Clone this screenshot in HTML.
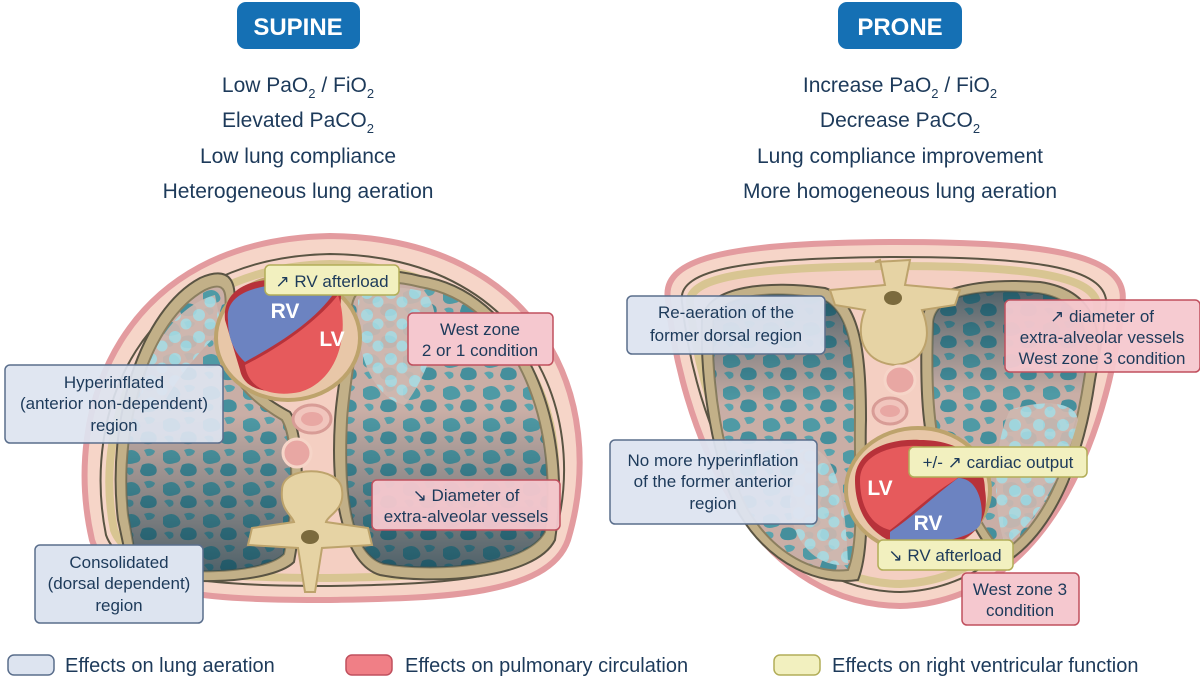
<!DOCTYPE html>
<html><head><meta charset="utf-8"><style>
body{margin:0;background:#fff;width:1200px;height:680px;overflow:hidden;font-family:"Liberation Sans",Arial,sans-serif}
svg{display:block}
.t{font-family:"Liberation Sans",Arial,sans-serif;fill:#1d3a5a}
</style></head><body>
<svg width="1200" height="680" viewBox="0 0 1200 680">
<defs>
<pattern id="blob" width="40" height="32" patternUnits="userSpaceOnUse">
<rect width="40" height="32" fill="#c9aea6"/>
<path d="M3 5 q9-6 15 0 q6 8-3 10 q-9 3-12-3z" fill="#4f9aa5"/>
<path d="M22 17 q9-4 14 2 q3 8-6 9 q-9 1-10-5z" fill="#458f9c"/>
<path d="M24 2 q6-3 11 1 q-1 5-8 5z" fill="#5aa3ad"/>
<path d="M4 21 q5-3 9 0 q2 5-4 6z" fill="#5aa3ad"/>
</pattern>
<pattern id="bubbles" width="24" height="22" patternUnits="userSpaceOnUse">
<rect width="24" height="22" fill="#cfb8b0"/>
<circle cx="7" cy="7" r="6" fill="#a8dbe3"/><circle cx="18" cy="16" r="5.5" fill="#a8dbe3"/>
</pattern>
<linearGradient id="gs" x1="0" y1="0" x2="0" y2="1">
<stop offset="0.45" stop-color="#0f3a4a" stop-opacity="0"/>
<stop offset="1" stop-color="#0f3a4a" stop-opacity="0.65"/>
</linearGradient>
<linearGradient id="gp" x1="0" y1="1" x2="0" y2="0">
<stop offset="0.6" stop-color="#0f3a4a" stop-opacity="0"/>
<stop offset="1" stop-color="#0f3a4a" stop-opacity="0.65"/>
</linearGradient>
</defs>

<!-- titles -->
<rect x="237" y="2" width="123" height="47" rx="9" fill="#1570b4"/>
<text x="298" y="35" text-anchor="middle" font-size="24" font-weight="bold" fill="#fff" font-family="Liberation Sans">SUPINE</text>
<rect x="838" y="2" width="124" height="47" rx="9" fill="#1570b4"/>
<text x="900" y="35" text-anchor="middle" font-size="24" font-weight="bold" fill="#fff" font-family="Liberation Sans">PRONE</text>

<g class="t" font-size="21" text-anchor="middle">
<text x="298" y="92">Low PaO<tspan font-size="13" dy="6">2</tspan><tspan dy="-6"> / FiO</tspan><tspan font-size="13" dy="6">2</tspan></text>
<text x="298" y="127">Elevated PaCO<tspan font-size="13" dy="6">2</tspan></text>
<text x="298" y="163">Low lung compliance</text>
<text x="298" y="198">Heterogeneous lung aeration</text>
<text x="900" y="92">Increase PaO<tspan font-size="13" dy="6">2</tspan><tspan dy="-6"> / FiO</tspan><tspan font-size="13" dy="6">2</tspan></text>
<text x="900" y="127">Decrease PaCO<tspan font-size="13" dy="6">2</tspan></text>
<text x="900" y="163">Lung compliance improvement</text>
<text x="900" y="198">More homogeneous lung aeration</text>
</g>

<!-- SUPINE body -->
<path d="M92 540 C62 410,120 240,330 236 C540 238,610 400,568 540 C548 598,430 598,330 600 C230 600,110 598,92 540Z" fill="#f6d5c8" stroke="#e39b9f" stroke-width="6"/>
<path d="M106 535 C82 415,135 258,330 254 C525 256,590 410,555 535 C535 582,430 584,330 586 C230 586,122 582,106 535Z" fill="none" stroke="#5a5443" stroke-width="2"/>
<path d="M114 530 C92 420,145 268,330 264 C515 266,580 415,547 530 C528 574,430 576,330 578 C230 578,130 574,114 530Z" fill="#f4cfc2" stroke="#d8c592" stroke-width="8"/>
<!-- left lung -->
<path d="M118 520 C106 420,140 310,200 278 C230 265,240 280,232 320 C228 360,240 385,290 412 C308 440,302 520,294 562 C270 586,160 587,128 567Z" fill="#c2b088" stroke="#5a5443" stroke-width="2"/>
<path d="M128 515 C118 425,150 320,205 290 C226 280,228 292,224 320 C220 362,234 392,282 420 C296 444,292 520,284 554 C262 576,165 576,136 560Z" fill="url(#blob)" stroke="#8b7f60" stroke-width="2"/>
<path d="M128 515 C118 425,150 320,205 290 C226 280,228 292,224 320 C220 362,234 392,282 420 C296 444,292 520,284 554 C262 576,165 576,136 560Z" fill="url(#gs)"/>
<path d="M140 400 C150 340,180 305,215 295 L222 330 C200 350,175 380,160 410Z" fill="url(#bubbles)" opacity="0.9"/>
<!-- right lung -->
<path d="M340 300 C345 270,380 266,420 276 C520 290,575 420,555 540 C535 580,430 585,380 575 C345 565,330 500,335 420 C338 370,352 340,340 300Z" fill="#c2b088" stroke="#5a5443" stroke-width="2"/>
<path d="M352 305 C356 282,385 278,420 287 C512 302,560 420,545 532 C525 568,430 572,384 564 C352 555,343 500,347 420 C350 372,362 340,352 305Z" fill="url(#blob)" stroke="#8b7f60" stroke-width="2"/>
<path d="M352 305 C356 282,385 278,420 287 C512 302,560 420,545 532 C525 568,430 572,384 564 C352 555,343 500,347 420 C350 372,362 340,352 305Z" fill="url(#gs)"/>
<path d="M358 300 C370 285,400 285,425 292 C445 315,435 365,405 405 C380 400,362 370,358 330Z" fill="url(#bubbles)" opacity="0.9"/>
<!-- heart -->
<ellipse cx="288" cy="338" rx="72" ry="62" fill="#e8c7a8" stroke="#bda36c" stroke-width="4"/>
<path d="M225 320 C222 290,250 278,280 280 L340 282 C345 310,330 380,310 385 C280 395,245 395,240 370Z" fill="#b7323a"/>
<path d="M228 320 C225 296,250 286,285 284 L335 292 C315 320,285 340,245 362 C232 350,228 335,228 320Z" fill="#6c83c1"/>
<path d="M245 365 C285 345,320 318,338 295 C350 330,340 380,300 392 C270 398,248 388,245 365Z" fill="#e65a5c"/>
<text x="285" y="318" font-size="21" font-weight="bold" fill="#fff" text-anchor="middle" font-family="Liberation Sans">RV</text>
<text x="332" y="346" font-size="21" font-weight="bold" fill="#fff" text-anchor="middle" font-family="Liberation Sans">LV</text>
<!-- vessels & spine -->
<ellipse cx="312" cy="419" rx="19" ry="14" fill="#f1c5bd" stroke="#d89c96" stroke-width="3"/>
<ellipse cx="312" cy="419" rx="11" ry="7" fill="#e8a7a3"/>
<circle cx="297" cy="453" r="14" fill="#e8a7a3" stroke="#f6d5c8" stroke-width="3"/>
<path d="M282 490 C282 465,340 465,342 490 C345 510,328 515,326 522 L368 528 L372 545 L322 548 L315 592 L305 592 L298 548 L248 545 L252 528 L294 522 C292 515,280 510,282 490Z" fill="#e6d3a4" stroke="#bda36c" stroke-width="2"/>
<ellipse cx="310" cy="537" rx="9" ry="7" fill="#7b6a3d"/>

<!-- PRONE body -->
<path d="M668 300 C660 255,740 243,895 242 C1050 242,1132 255,1122 305 C1112 410,1058 602,900 606 C745 604,680 420,668 300Z" fill="#f6d5c8" stroke="#e39b9f" stroke-width="6"/>
<path d="M682 302 C676 268,750 258,895 257 C1040 257,1112 268,1106 308 C1096 410,1045 588,900 592 C758 590,694 420,682 302Z" fill="none" stroke="#5a5443" stroke-width="2"/>
<path d="M690 304 C686 276,755 267,895 266 C1035 266,1102 277,1097 310 C1088 410,1038 580,900 584 C765 582,702 420,690 304Z" fill="#f4cfc2" stroke="#d8c592" stroke-width="8"/>
<!-- left lung -->
<path d="M702 320 C706 285,770 280,825 288 C862 300,866 360,866 420 C864 480,872 545,858 580 C820 586,770 565,740 515 C712 465,700 380,702 320Z" fill="#c2b088" stroke="#5a5443" stroke-width="2"/>
<path d="M713 322 C717 294,772 290,820 298 C852 310,855 360,855 420 C854 480,860 540,848 570 C815 574,775 555,748 510 C722 462,711 380,713 322Z" fill="url(#blob)" stroke="#8b7f60" stroke-width="2"/>
<path d="M713 322 C717 294,772 290,820 298 C852 310,855 360,855 420 C854 480,860 540,848 570 C815 574,775 555,748 510 C722 462,711 380,713 322Z" fill="url(#gp)"/>
<path d="M800 450 C830 440,845 480,848 565 C815 568,790 540,790 500Z" fill="url(#bubbles)" opacity="0.9"/>
<!-- right lung -->
<path d="M922 320 C925 285,985 278,1040 282 C1095 290,1105 330,1095 380 C1085 450,1060 525,1010 560 C985 565,975 515,945 485 C920 455,920 380,922 320Z" fill="#c2b088" stroke="#5a5443" stroke-width="2"/>
<path d="M933 322 C936 293,985 288,1038 293 C1085 300,1092 335,1084 380 C1074 445,1052 515,1008 548 C990 550,980 510,953 480 C932 450,931 380,933 322Z" fill="url(#blob)" stroke="#8b7f60" stroke-width="2"/>
<path d="M933 322 C936 293,985 288,1038 293 C1085 300,1092 335,1084 380 C1074 445,1052 515,1008 548 C990 550,980 510,953 480 C932 450,931 380,933 322Z" fill="url(#gp)"/>
<path d="M1010 410 C1040 400,1075 400,1078 420 C1065 470,1040 520,1005 545 C990 500,995 440,1010 410Z" fill="url(#bubbles)" opacity="0.9"/>
<!-- spine -->
<path d="M875 262 L880 260 L885 285 L830 290 L835 305 L865 310 C855 335,862 362,895 365 C928 362,932 335,922 310 L955 305 L960 290 L905 285 L910 260 Z" fill="#e6d3a4" stroke="#bda36c" stroke-width="2"/>
<ellipse cx="893" cy="298" rx="9" ry="7" fill="#7b6a3d"/>
<ellipse cx="900" cy="380" rx="15" ry="14" fill="#e8a7a3" stroke="#f6d5c8" stroke-width="3"/>
<ellipse cx="890" cy="411" rx="17" ry="13" fill="#f1c5bd" stroke="#d89c96" stroke-width="3"/>
<ellipse cx="890" cy="411" rx="10" ry="6" fill="#e8a7a3"/>
<!-- heart -->
<ellipse cx="918" cy="490" rx="72" ry="62" fill="#e8c7a8" stroke="#bda36c" stroke-width="4"/>
<path d="M855 480 C855 450,890 438,920 440 C960 440,985 460,985 490 C990 520,975 545,930 548 C880 550,855 520,855 480Z" fill="#b7323a"/>
<path d="M860 480 C860 455,890 445,918 446 C950 448,970 470,955 480 C930 495,910 515,890 530 C870 525,860 505,860 480Z" fill="#e65a5c"/>
<path d="M890 532 C915 515,935 495,958 478 C980 478,985 510,980 525 C970 540,930 545,890 545Z" fill="#6c83c1"/>
<text x="880" y="495" font-size="21" font-weight="bold" fill="#fff" text-anchor="middle" font-family="Liberation Sans">LV</text>
<text x="928" y="530" font-size="21" font-weight="bold" fill="#fff" text-anchor="middle" font-family="Liberation Sans">RV</text>

<!-- labels -->
<g font-size="17" text-anchor="middle" class="t">
<rect x="265" y="265" width="134" height="30" rx="5" fill="#f2f0bf" stroke="#b2ad58" stroke-width="1.5"/>
<text x="332" y="287">↗ RV afterload</text>
<rect x="408" y="313" width="145" height="52" rx="5" fill="#f5c8cf" stroke="#c0505e" stroke-width="1.5"/>
<text x="480" y="335">West zone</text><text x="480" y="356">2 or 1 condition</text>
<rect x="5" y="365" width="218" height="78" rx="5" fill="#dde4f0" stroke="#5a6e8c" stroke-width="1.5" fill-opacity="0.92"/>
<text x="114" y="388">Hyperinflated</text><text x="114" y="409">(anterior non-dependent)</text><text x="114" y="431">region</text>
<rect x="372" y="480" width="188" height="50" rx="5" fill="#f5c8cf" stroke="#c0505e" stroke-width="1.5" fill-opacity="0.95"/>
<text x="466" y="501">↘ Diameter of</text><text x="466" y="522">extra-alveolar vessels</text>
<rect x="35" y="545" width="168" height="78" rx="5" fill="#dde4f0" stroke="#5a6e8c" stroke-width="1.5"/>
<text x="119" y="568">Consolidated</text><text x="119" y="589">(dorsal dependent)</text><text x="119" y="611">region</text>

<rect x="627" y="296" width="198" height="58" rx="5" fill="#dde4f0" stroke="#5a6e8c" stroke-width="1.5" fill-opacity="0.95"/>
<text x="726" y="318">Re-aeration of the</text><text x="726" y="341">former dorsal region</text>
<rect x="1005" y="300" width="195" height="72" rx="5" fill="#f5c8cf" stroke="#c0505e" stroke-width="1.5" fill-opacity="0.95"/>
<text x="1102" y="322">↗ diameter of</text><text x="1102" y="343">extra-alveolar vessels</text><text x="1102" y="364">West zone 3 condition</text>
<rect x="610" y="440" width="207" height="84" rx="5" fill="#dde4f0" stroke="#5a6e8c" stroke-width="1.5" fill-opacity="0.95"/>
<text x="713" y="466">No more hyperinflation</text><text x="713" y="487">of the former anterior</text><text x="713" y="509">region</text>
<rect x="909" y="447" width="178" height="30" rx="5" fill="#f2f0bf" stroke="#b2ad58" stroke-width="1.5"/>
<text x="998" y="468">+/- ↗ cardiac output</text>
<rect x="878" y="540" width="135" height="30" rx="5" fill="#f2f0bf" stroke="#b2ad58" stroke-width="1.5"/>
<text x="945" y="561">↘ RV afterload</text>
<rect x="962" y="573" width="117" height="52" rx="5" fill="#f5c8cf" stroke="#c0505e" stroke-width="1.5"/>
<text x="1020" y="595">West zone 3</text><text x="1020" y="616">condition</text>
</g>

<!-- legend -->
<rect x="8" y="655" width="46" height="20" rx="6" fill="#dde4f0" stroke="#5a6e8c" stroke-width="1.5"/>
<text x="65" y="672" font-size="20" class="t">Effects on lung aeration</text>
<rect x="346" y="655" width="46" height="20" rx="6" fill="#f07f86" stroke="#c0505e" stroke-width="1.5"/>
<text x="405" y="672" font-size="20" class="t">Effects on pulmonary circulation</text>
<rect x="774" y="655" width="46" height="20" rx="6" fill="#f2f0bf" stroke="#b2ad58" stroke-width="1.5"/>
<text x="832" y="672" font-size="20" class="t">Effects on right ventricular function</text>
</svg>
</body></html>
